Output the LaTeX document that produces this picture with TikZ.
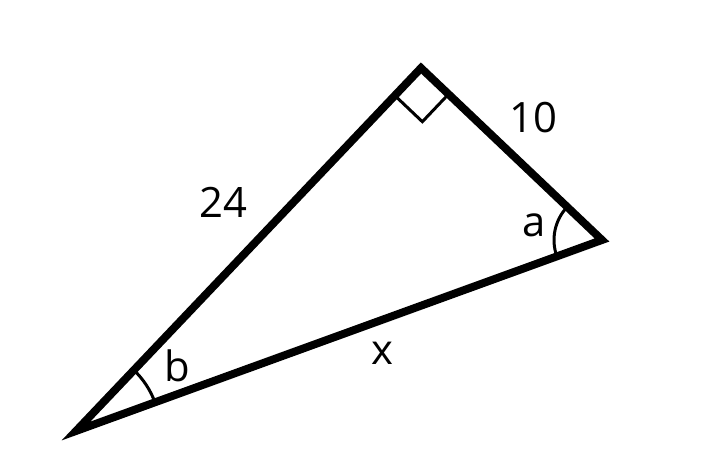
\documentclass[tikz,border=0pt]{standalone}
\usepackage{fontspec}
\setmainfont{Open Sans}
\usetikzlibrary{angles}
\tikzset{
  side/.style={line width=4.5pt, line join=miter},
  anglemark/.style={draw, line width=1.7pt},
  lbl/.style={inner sep=0pt}
}
\begin{document}
\begin{tikzpicture}[x=0.02cm, y=0.02cm]
    \useasboundingbox (0,0) rectangle (708,471);
    {\fontsize{23.8}{28}\selectfont

    % Vertices of the triangle
    \coordinate (T) at (421,403);
    \coordinate (R) at (602,231);
    \coordinate (L) at (76,40);

    % Drawing right angle at T
    \path pic [anglemark, angle radius=0.76cm] {right angle = L--T--R};

    % Drawing angle a at R
    \path pic [anglemark, angle radius=0.96cm] {angle = T--R--L};

    % Drawing angle b at L
    \path pic [anglemark, angle radius=1.68cm] {angle = R--L--T};

    % Drawing triangle T R L
    \draw [side] (T) -- (R) -- (L) -- cycle;

    % Marking sides
    \node [lbl] (s24) at (223,269) {24};
    \node [lbl] (s10) at (533,353) {10};
    \node [lbl] (sx) at (382,118) {x};

    % Marking angles
    \node [lbl] (ang-a) at (534,246) {a};
    \node [lbl] (ang-b) at (177,105) {b};
    }
\end{tikzpicture}
\end{document}
